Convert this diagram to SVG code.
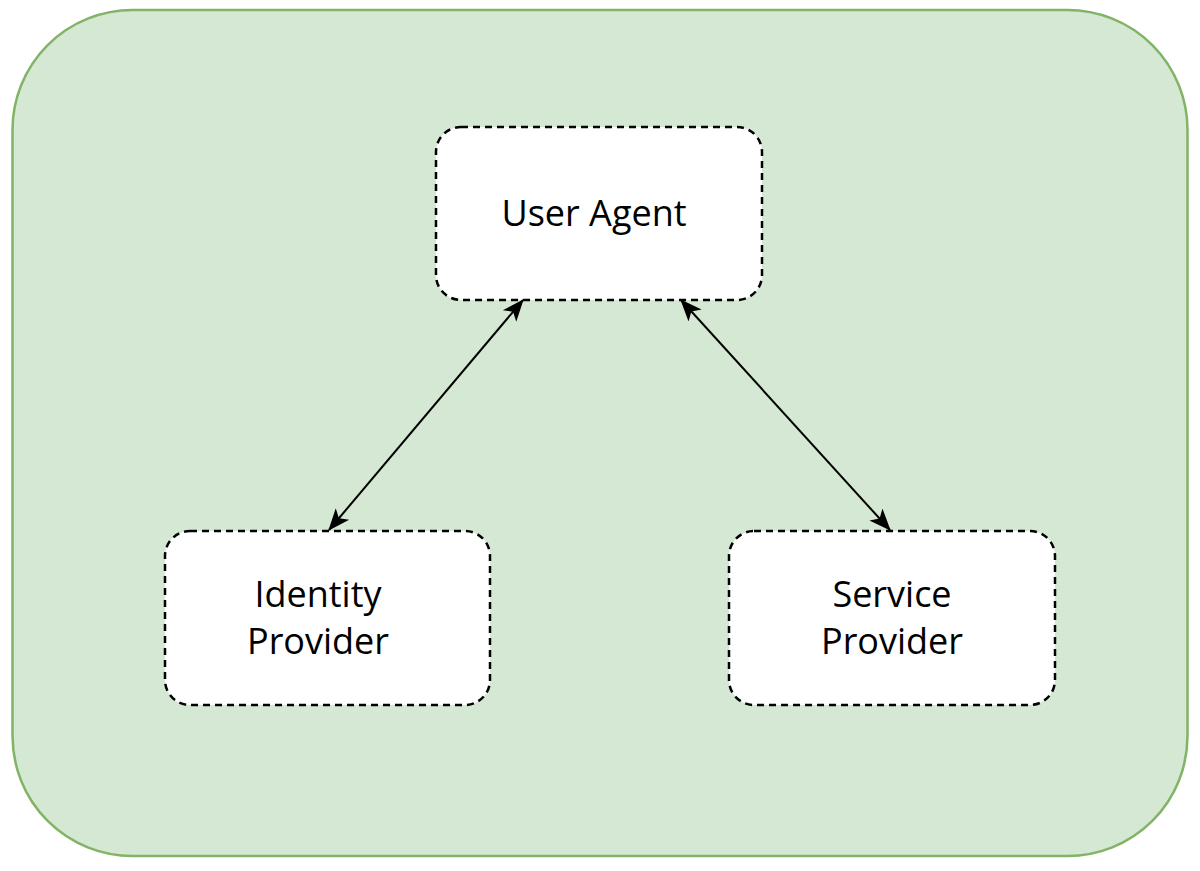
<svg xmlns="http://www.w3.org/2000/svg" width="1200" height="871" viewBox="0 0 1200 871">
<style>
.node{fill:#ffffff;stroke:#000000;stroke-width:2.5;stroke-dasharray:7 5}
.lbl{font-family:"Open Sans","Noto Sans",sans-serif;font-size:36px;fill:#000000;text-anchor:middle}
.conn{stroke:#000000;stroke-width:2;fill:none;marker-start:url(#ah);marker-end:url(#ah)}
</style>
<defs>
<marker id="ah" viewBox="0 0 10 10" refX="9.5" refY="5" markerWidth="22" markerHeight="22" markerUnits="userSpaceOnUse" orient="auto-start-reverse">
<path d="M0,1 L10,5 L0,9 L2.5,5 Z" fill="#000000"/>
</marker>
</defs>
<rect id="container" x="12.5" y="10" width="1175" height="846" rx="120" ry="120" fill="#d5e8d4" stroke="#82b366" stroke-width="2.5"/>
<g id="user-agent">
<rect class="node" x="436" y="127" width="326" height="173" rx="25" ry="25"/>
<text class="lbl" x="594" y="226">User Agent</text>
</g>
<g id="identity-provider">
<rect class="node" x="165" y="531" width="325" height="174" rx="25" ry="25"/>
<text class="lbl" x="318" y="607">Identity</text>
<text class="lbl" x="318" y="654">Provider</text>
</g>
<g id="service-provider">
<rect class="node" x="729" y="531" width="326" height="174" rx="25" ry="25"/>
<text class="lbl" x="892" y="607">Service</text>
<text class="lbl" x="892" y="654">Provider</text>
</g>
<g id="connectors">
<line class="conn" x1="523" y1="300" x2="329" y2="530"/>
<line class="conn" x1="681" y1="300" x2="890" y2="530"/>
</g>
</svg>
